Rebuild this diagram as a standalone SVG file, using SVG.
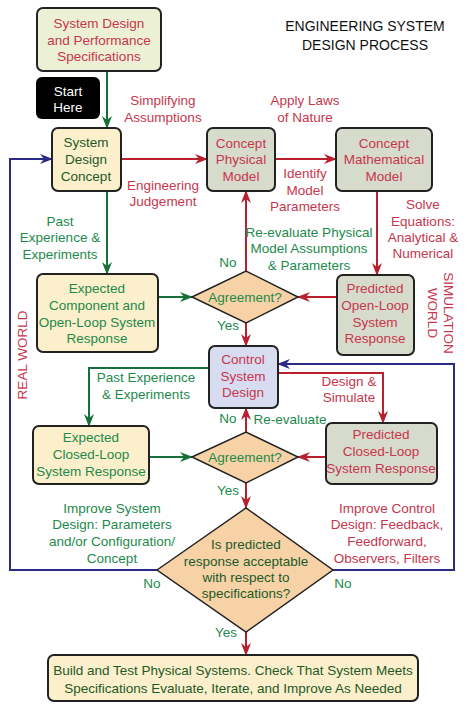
<svg xmlns="http://www.w3.org/2000/svg" width="474" height="711" viewBox="0 0 474 711">
<defs>
<marker id="ar" markerUnits="userSpaceOnUse" markerWidth="13" markerHeight="10" refX="12" refY="5" orient="auto"><path d="M0,0 L13,5 L0,10 L4,5 z" fill="#b8202f"/></marker>
<marker id="ag" markerUnits="userSpaceOnUse" markerWidth="13" markerHeight="10" refX="12" refY="5" orient="auto"><path d="M0,0 L13,5 L0,10 L4,5 z" fill="#17703a"/></marker>
<marker id="ab" markerUnits="userSpaceOnUse" markerWidth="13" markerHeight="10" refX="12" refY="5" orient="auto"><path d="M0,0 L13,5 L0,10 L4,5 z" fill="#2b2b86"/></marker>
</defs>
<style>
text{font-family:"Liberation Sans","DejaVu Sans",sans-serif;font-size:13.5px;text-anchor:middle}
.r{fill:#c8364e}
.g{fill:#1c8a4c}
.dg{fill:#1d5a2a}
.w{fill:#ffffff}
.k{fill:#111111;font-size:14px}
.box{stroke:#222;stroke-width:2}
.spec{fill:#ecf1d6}
.exp{fill:#fcefcb}
.mod{fill:#d7dbcb}
.ctl{fill:#d7dcf0}
.dia{fill:#f6d2a6;stroke:#222;stroke-width:1.5}
.lr{fill:none;stroke:#b8202f;stroke-width:2;marker-end:url(#ar)}
.lg{fill:none;stroke:#17703a;stroke-width:2;marker-end:url(#ag)}
.lb{fill:none;stroke:#2b2b86;stroke-width:2;marker-end:url(#ab)}
</style>
<rect width="474" height="711" fill="#ffffff"/>

<g id="connectors">
<path class="lg" d="M107,71 V128"/>
<path class="lr" d="M120,159 H207"/>
<path class="lr" d="M275,159 H336"/>
<path class="lr" d="M377,191 V275"/>
<path class="lr" d="M337,297 H298"/>
<path class="lg" d="M158,297 H192"/>
<path class="lg" d="M107,191 V274"/>
<path class="lr" d="M246,271 V191"/>
<path class="lr" d="M246,323 V346"/>
<path class="lb" d="M333,570 H454 V364 H278"/>
<path class="lr" d="M278,373 H383 V423"/>
<path class="lr" d="M326,457 H298"/>
<path class="lg" d="M149,457 H192"/>
<path class="lg" d="M209,368 H89 V426"/>
<path class="lr" d="M246,432 V408"/>
<path class="lr" d="M246,483 V508"/>
<path class="lb" d="M157,570 H10 V159 H52"/>
<path class="lr" d="M246,632 V655"/>
</g>

<g id="title">
<text class="k" x="365" y="31">ENGINEERING SYSTEM</text>
<text class="k" x="365" y="50">DESIGN PROCESS</text>
</g>

<g id="spec">
<rect class="box spec" x="37" y="8" width="124" height="63" rx="6"/>
<text class="r" x="99" y="28">System Design</text>
<text class="r" x="99" y="45">and Performance</text>
<text class="r" x="99" y="61">Specifications</text>
</g>

<g id="start">
<rect x="36" y="77" width="64" height="42" rx="6" fill="#000"/>
<text class="w" x="68" y="96">Start</text>
<text class="w" x="68" y="112">Here</text>
</g>

<g id="concept">
<rect class="box exp" x="52" y="128" width="69" height="63" rx="6"/>
<text class="dg" x="86" y="147">System</text>
<text class="dg" x="86" y="164">Design</text>
<text class="dg" x="86" y="181">Concept</text>
</g>

<g id="physical">
<rect class="box mod" x="207" y="128" width="68" height="63" rx="6"/>
<text class="r" x="241" y="148">Concept</text>
<text class="r" x="241" y="164">Physical</text>
<text class="r" x="241" y="181">Model</text>
</g>

<g id="math">
<rect class="box mod" x="336" y="128" width="96" height="63" rx="6"/>
<text class="r" x="384" y="148">Concept</text>
<text class="r" x="384" y="164">Mathematical</text>
<text class="r" x="384" y="181">Model</text>
</g>

<g id="openloop">
<rect class="box mod" x="337" y="275" width="77" height="80" rx="6"/>
<text class="r" x="375" y="293">Predicted</text>
<text class="r" x="375" y="310">Open-Loop</text>
<text class="r" x="375" y="327">System</text>
<text class="r" x="375" y="343">Response</text>
</g>

<g id="expected-ol">
<rect class="box exp" x="37" y="274" width="121" height="78" rx="6"/>
<text class="g" x="97" y="293">Expected</text>
<text class="g" x="97" y="310">Component and</text>
<text class="g" x="97" y="327">Open-Loop System</text>
<text class="g" x="97" y="343">Response</text>
</g>

<g id="agree1">
<polygon class="dia" points="192,297 246,271 298,297 246,323"/>
<text class="g" x="245" y="302">Agreement?</text>
</g>

<g id="control">
<rect class="box ctl" x="209" y="346" width="69" height="62" rx="6"/>
<text class="r" x="243" y="364">Control</text>
<text class="r" x="243" y="381">System</text>
<text class="r" x="243" y="397">Design</text>
</g>

<g id="closedloop">
<rect class="box mod" x="326" y="423" width="111" height="61" rx="6"/>
<text class="r" x="381" y="439">Predicted</text>
<text class="r" x="381" y="456">Closed-Loop</text>
<text class="r" x="381" y="473">System Response</text>
</g>

<g id="expected-cl">
<rect class="box exp" x="33" y="426" width="116" height="58" rx="6"/>
<text class="g" x="91" y="442">Expected</text>
<text class="g" x="91" y="459">Closed-Loop</text>
<text class="g" x="91" y="476">System Response</text>
</g>

<g id="agree2">
<polygon class="dia" points="192,457 246,432 298,457 246,483"/>
<text class="g" x="245" y="462">Agreement?</text>
</g>

<g id="accept">
<polygon class="dia" points="157,570 246,508 333,570 246,632"/>
<text class="dg" x="246" y="549">Is predicted</text>
<text class="dg" x="246" y="566">response acceptable</text>
<text class="dg" x="246" y="582">with respect to</text>
<text class="dg" x="246" y="598">specifications?</text>
</g>

<g id="build">
<rect class="box exp" x="48" y="655" width="370" height="46" rx="6"/>
<text class="dg" x="233" y="675">Build and Test Physical Systems. Check That System Meets</text>
<text class="dg" x="233" y="693">Specifications Evaluate, Iterate, and Improve As Needed</text>
</g>

<g id="labels">
<text class="r" x="163" y="105">Simplifying</text>
<text class="r" x="163" y="122">Assumptions</text>
<text class="r" x="163" y="190">Engineering</text>
<text class="r" x="163" y="206">Judgement</text>
<text class="r" x="305" y="105">Apply Laws</text>
<text class="r" x="305" y="122">of Nature</text>
<text class="r" x="305" y="178">Identify</text>
<text class="r" x="305" y="195">Model</text>
<text class="r" x="305" y="211">Parameters</text>
<text class="r" x="423" y="209">Solve</text>
<text class="r" x="423" y="226">Equations:</text>
<text class="r" x="423" y="242">Analytical &amp;</text>
<text class="r" x="423" y="258">Numerical</text>
<text class="g" x="60" y="226">Past</text>
<text class="g" x="60" y="242">Experience &amp;</text>
<text class="g" x="60" y="259">Experiments</text>
<text class="g" x="309" y="237">Re-evaluate Physical</text>
<text class="g" x="309" y="253">Model Assumptions</text>
<text class="g" x="309" y="270">&amp; Parameters</text>
<text class="g" x="228" y="267">No</text>
<text class="g" x="228" y="330">Yes</text>
<text class="g" x="146" y="382">Past Experience</text>
<text class="g" x="146" y="399">&amp; Experiments</text>
<text class="r" x="349" y="386">Design &amp;</text>
<text class="r" x="349" y="402">Simulate</text>
<text class="g" x="228" y="423">No</text>
<text class="g" x="290" y="424">Re-evaluate</text>
<text class="g" x="228" y="495">Yes</text>
<text class="g" x="112" y="513">Improve System</text>
<text class="g" x="112" y="529">Design: Parameters</text>
<text class="g" x="112" y="546">and/or Configuration/</text>
<text class="g" x="112" y="563">Concept</text>
<text class="r" x="387" y="513">Improve Control</text>
<text class="r" x="387" y="529">Design: Feedback,</text>
<text class="r" x="387" y="546">Feedforward,</text>
<text class="r" x="387" y="563">Observers, Filters</text>
<text class="g" x="152" y="588">No</text>
<text class="g" x="343" y="588">No</text>
<text class="g" x="226" y="637">Yes</text>
<text class="r" transform="translate(27,355) rotate(-90)">REAL WORLD</text>
<text class="r" transform="translate(444,313) rotate(90)">SIMULATION</text>
<text class="r" transform="translate(428,313) rotate(90)">WORLD</text>
</g>
</svg>
